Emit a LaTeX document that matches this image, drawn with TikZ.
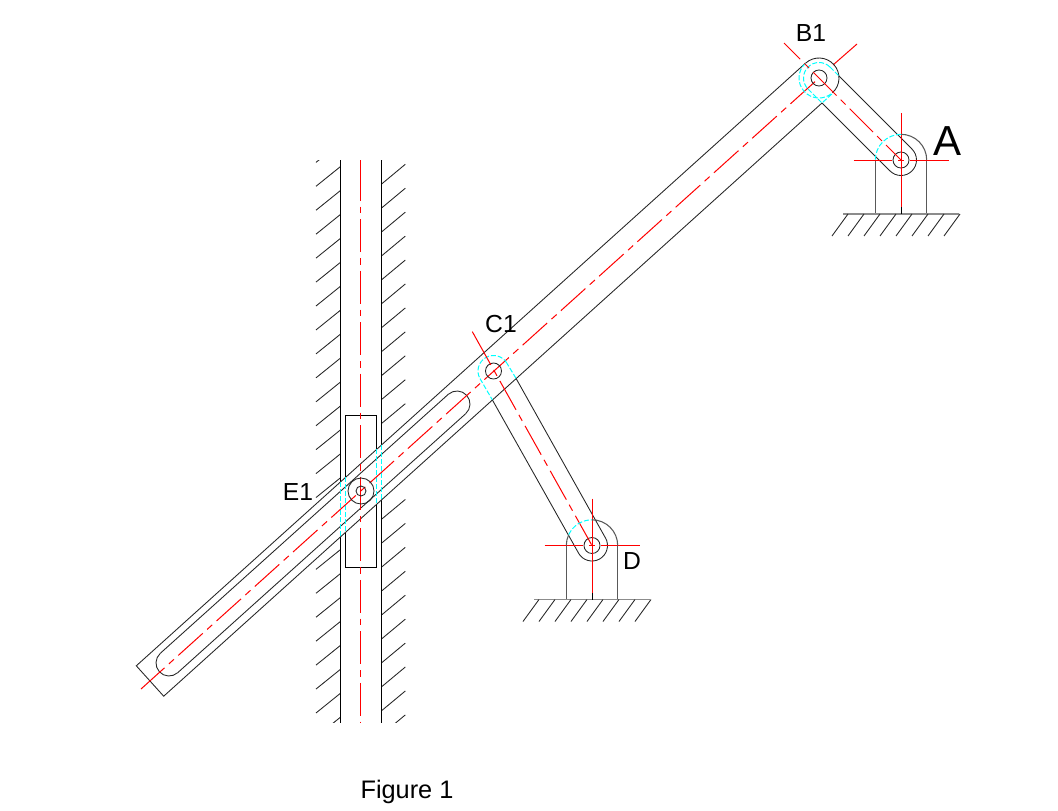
\documentclass[tikz,border=0pt]{standalone}
\usepackage{fontspec}
\setmainfont{Liberation Sans}
\usetikzlibrary{calc}
\definecolor{hiddencyan}{RGB}{0,255,255}
\definecolor{axisred}{RGB}{255,0,0}
\def\pinarc[#1](#2)(#3:#4:#5){\draw[#1] ($(#2)+(#3:#5)$) arc (#3:#4:#5);}
\tikzset{
	part/.style={line width=0.65pt, black!85},
	guide/.style={line width=0.75pt, black},
	ground/.style={line width=1.3pt, black!45},
	pedestal/.style={line width=0.8pt, black!65},
	hatchline/.style={line width=0.65pt, black!85},
	centreline/.style={line width=0.75pt, axisred, dash pattern=on 24.75pt off 4.35pt on 5.1pt off 4.43pt},
	crossline/.style={line width=0.75pt, axisred},
	hiddenline/.style={line width=0.75pt, hiddencyan, dash pattern=on 3.75pt off 1.5pt},
	tag/.style={font=\fontsize{18.5}{20}\selectfont, inner sep=0pt}
}
% one fixed pin on its ground block, #1 and #2 are the pin
\def\groundpin(#1,#2){
	\draw[pedestal] (#1-25.7, #2) -- (#1-25.7, #2+54);
	\draw[pedestal] (#1+25.7, #2) -- (#1+25.7, #2+54);
	\draw[ground] (#1-58, #2+54) -- (#1+58, #2+54);
	\foreach \n in {0,...,7}
		\draw[hatchline] (#1-53+\n*16, #2+54) -- (#1-69+\n*16, #2+76);
	\draw[guide] (#1, #2+47) -- (#1, #2+54);
	\draw[crossline] (#1, #2-47) -- (#1, #2+47);
	\draw[crossline] (#1-47.5, #2) -- (#1-9, #2);
	\draw[crossline] (#1-3, #2) -- (#1+3, #2);
	\draw[crossline] (#1+9, #2) -- (#1+47.5, #2);
}
\begin{document}
\begin{tikzpicture}[x=0.75pt, y=-0.75pt]
	\useasboundingbox (0, 0) rectangle (1058, 811);
	\coordinate (A) at (901, 160);
	\coordinate (B1) at (819, 78);
	\coordinate (C1) at (493.5, 371);
	\coordinate (D) at (592, 545.5);
	\coordinate (E1) at (361, 491);

	%%%%% vertical guide %%%%%
	\begin{scope}
		\clip (300, 160) rectangle (420, 722.7);
		\foreach \n in {-1,...,24}{
			\draw[hatchline] (340.3, 166.7+\n*23.94) -- (316, 186.3+\n*23.94);
			\draw[hatchline] (405.3, 164.3+\n*23.94) -- (382, 183.7+\n*23.94);
		}
	\end{scope}
	\draw[guide] (340.3, 160) -- (340.3, 722.7);
	\draw[guide] (381.3, 160) -- (381.3, 722.7);
	\draw[guide] (345.3, 415) rectangle (376.7, 567.3);

	%%%%% long bar with slot %%%%%
	\fill[white] (136.3, 665.8) -- (805.6, 63.1) -- (832.7, 93.2) -- (163.7, 696.2) -- cycle;
	\draw[part] (805.6, 63.1) -- (136.3, 665.8) -- (163.7, 696.2) -- (822, 103);
	\draw[part] (448.3, 394.3) -- (160.3, 653.3);
	\draw[part] (465.7, 413.7) -- (177.7, 672.7);
	\pinarc[part](457, 404)(-132:48:13)
	\pinarc[part](169, 663)(48:228:13)
	\draw[hiddenline] (340.3, 481.9) -- (340.3, 536.4);
	\draw[hiddenline] (345.3, 477.4) -- (345.3, 532);
	\draw[hiddenline] (376.7, 449.1) -- (376.7, 503.7);
	\draw[hiddenline] (381.3, 445) -- (381.3, 499.6);
	\draw[crossline] (360.5, 160) -- (360.5, 167.7);
	\draw[centreline] (360.5, 167.7) -- (360.5, 722.7);
	\draw[crossline] (857, 44) -- (833, 65);
	\draw[centreline] (815, 81.7) -- (141, 689);

	%%%%% slider pin %%%%%
	\draw[part] (E1) circle (13);
	\draw[part] (E1) circle (5);

	%%%%% crank A-B1 %%%%%
	\draw[part] (838.9, 75.9) -- (912, 149);
	\draw[part] (822, 103) -- (890, 171);
	\pinarc[part](A)(-45:135:15.5)
	\draw[part] (A) circle (8);
	\pinarc[part](B1)(-132:48:20)
	\pinarc[hiddenline](B1)(228:48:20)
	\pinarc[hiddenline](B1)(-45:-225:15.5)
	\draw[hiddenline] (830, 67) -- (838.9, 75.9);
	\draw[hiddenline] (808, 89) -- (822, 103) -- (832.7, 93.2);
	\draw[part] (B1) circle (8);
	\draw[centreline, dash phase=7.6pt] (784, 43) -- (A);
	\groundpin(901,160)
	\pinarc[pedestal](A)(-90:0:25.7)
	\pinarc[hiddenline](A)(-90:-180:25.7)

	%%%%% link C1-D %%%%%
	\draw[part] (516, 378.3) -- (605.5, 538);
	\draw[part] (492.3, 399.8) -- (578.5, 553);
	\pinarc[part](D)(-29.3:150.7:15.5)
	\draw[part] (D) circle (8);
	\draw[hiddenline] (516, 378.3) -- (507, 363.4);
	\pinarc[hiddenline](C1)(-29.3:-209.3:15.5)
	\draw[hiddenline] (480, 378.6) -- (492.3, 399.8);
	\draw[part] (C1) circle (8);
	\draw[crossline] (472.3, 331.7) -- (474.8, 336);
	\draw[centreline, dash phase=34.9pt] (472.3, 331.7) -- (D);
	\groundpin(592,545.5)
	\pinarc[pedestal](D)(-90:0:25.7)
	\pinarc[pedestal](D)(180:205:25.7)
	\pinarc[hiddenline](D)(205:270:25.7)

	%%%%% labels %%%%%
	\node[tag] (labelb) at (811, 33.5) {B1};
	\node[tag, font=\fontsize{31.5}{34}\selectfont] (labela) at (947, 141) {A};
	\node[tag] (labelc) at (501, 324) {C1};
	\node[tag] (labeld) at (632, 561) {D};
	\node[tag] (labele) at (298, 492) {E1};
	\node[tag, font=\fontsize{19}{20}\selectfont] (caption) at (407, 792) {Figure 1};
\end{tikzpicture}
\end{document}
